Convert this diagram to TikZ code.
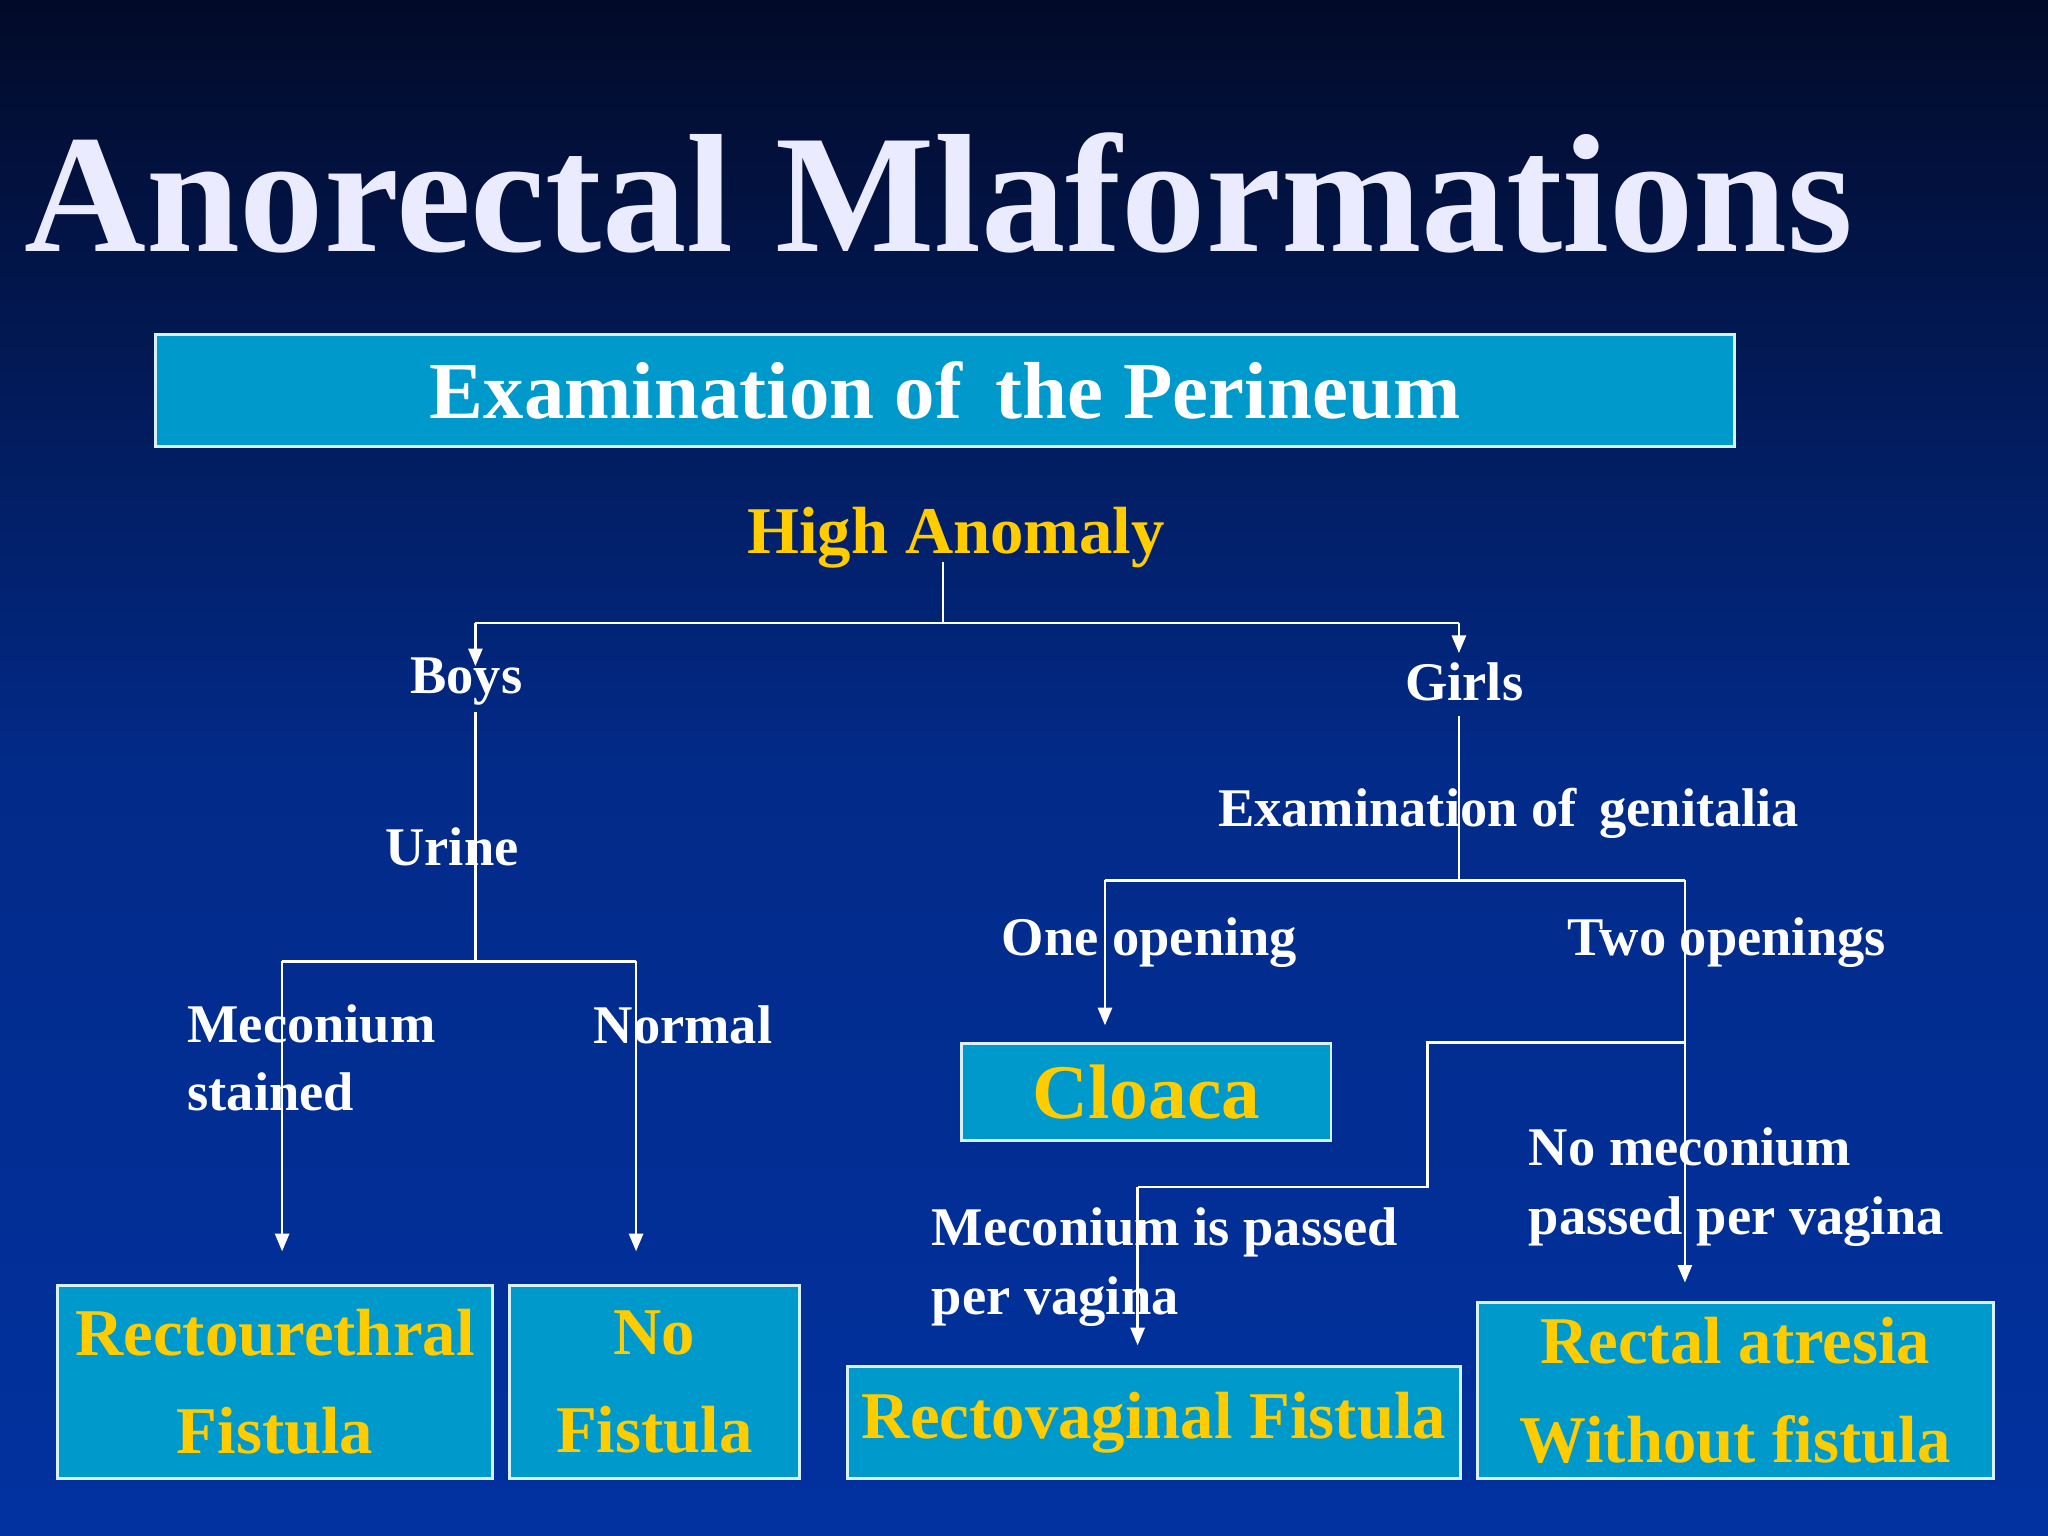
\documentclass[tikz,border=0pt]{standalone}
\usepackage{fontspec}
\setmainfont{Liberation Serif}
\usetikzlibrary{arrows.meta}
\definecolor{boxc}{RGB}{0,153,204}
\definecolor{yel}{RGB}{255,204,0}
\definecolor{bgtop}{RGB}{2,10,40}
\definecolor{bgbot}{RGB}{2,50,160}
\begin{document}
\begin{tikzpicture}[x=0.01306cm,y=-0.01306cm,
  bx/.style={draw=white!85!boxc,line width=0.8pt,fill=boxc,anchor=north west,inner sep=0pt,align=center,font=\bfseries\fontsize{18}{21}\selectfont,text=yel},
  lbl/.style={text=white,font=\bfseries\fontsize{15.5}{19.5}\selectfont,inner sep=0pt},
  ln/.style={draw=white,line width=0.7pt},
  ar/.style={ln,-{Triangle[width=4pt,length=5pt]}}]
\useasboundingbox (0,0) rectangle (1568,1176);
\shade[top color=bgtop,bottom color=bgbot,middle color=bgbot!80!bgtop] (0,0) rectangle (1568,1176);
\node[text=white!92!blue,font=\bfseries\fontsize{48}{50}\selectfont,anchor=west,inner sep=0pt] (title) at (18,148) {Anorectal Mlaformations};
\node[bx,minimum width=1209*0.01306cm,minimum height=86*0.01306cm,text=white,font=\fontsize{23}{26}\selectfont\bfseries] (exam) at (118,255) {Examination of\, the Perineum};
\node[text=yel,font=\bfseries\fontsize{19}{22}\selectfont,inner sep=0pt] (high) at (732,412) {High Anomaly};
\node[lbl] (boys) at (357,522) {Boys};
\node[lbl] (girls) at (1121,522) {Girls};
\node[lbl] (urine) at (346,648) {Urine};
\node[lbl,anchor=west,align=left] (mec) at (143,810) {Meconium\\stained};
\node[lbl] (normal) at (523,785) {Normal};
\node[lbl] (gen) at (1155,623) {Examination of\, genitalia};
\node[lbl] (one) at (880,722) {One opening};
\node[lbl] (two) at (1322,722) {Two openings};
\node[lbl,anchor=west,align=left] (mpv) at (713,970) {Meconium is passed\\per vagina};
\node[lbl,anchor=west,align=left] (nmp) at (1170,909) {No meconium\\passed per vagina};
\node[bx,minimum width=333*0.01306cm,minimum height=148*0.01306cm,font=\bfseries\fontsize{19}{28}\selectfont] (rf) at (43,983) {Rectourethral\\Fistula};
\node[bx,minimum width=222*0.01306cm,minimum height=148*0.01306cm,font=\bfseries\fontsize{19}{28}\selectfont] (nf) at (389,983) {No\\Fistula};
\node[bx,minimum width=283*0.01306cm,minimum height=74*0.01306cm,font=\bfseries\fontsize{22}{26}\selectfont] (cl) at (735,798) {Cloaca};
\node[bx,minimum width=469*0.01306cm,minimum height=86*0.01306cm,font=\bfseries\fontsize{19}{22}\selectfont] (rv) at (648,1045) {Rectovaginal Fistula};
\node[bx,minimum width=395*0.01306cm,minimum height=135*0.01306cm,font=\bfseries\fontsize{19}{28}\selectfont] (ra) at (1130,996) {Rectal atresia\\Without fistula};
\coordinate (h1) at (722,430); \coordinate (h2) at (722,477);
\coordinate (b1) at (364,477); \coordinate (g1) at (1117,477);
\coordinate (b2) at (364,510); \coordinate (g2) at (1117,500);
\draw[ln] (h1)--(h2)--(b1); \draw[ln] (h2)--(g1);
\draw[ar] (b1)--(b2); \draw[ar] (g1)--(g2);
\coordinate (bt) at (364,545); \coordinate (bj) at (364,736);
\coordinate (l1) at (216,736); \coordinate (r1) at (487,736);
\draw[ln] (bt)--(bj)--(l1); \draw[ln] (bj)--(r1);
\draw[ar] (l1)--(216,958); \draw[ar] (r1)--(487,958);
\coordinate (gt) at (1117,548); \coordinate (gj) at (1117,674);
\coordinate (o1) at (846,674); \coordinate (t1) at (1290,674);
\draw[ln] (gt)--(gj)--(o1); \draw[ln] (gj)--(t1);
\draw[ar] (o1)--(846,785); \draw[ar] (t1)--(1290,982);
\coordinate (s1) at (1290,798); \coordinate (s2) at (1093,798);
\coordinate (s3) at (1093,909); \coordinate (s4) at (871,909);
\draw[ln] (s1)--(s2)--(s3)--(s4); \draw[ar] (s4)--(871,1030);
\end{tikzpicture}
\end{document}
